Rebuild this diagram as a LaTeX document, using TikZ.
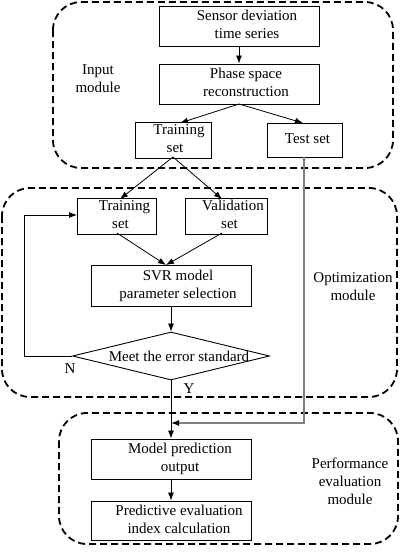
\documentclass[tikz,border=0pt]{standalone}
\usepackage{fontspec}
\setmainfont{Liberation Serif}
\usetikzlibrary{arrows.meta,shapes.geometric}
\newcommand{\shtxt}[2]{\hspace*{#1}\begin{tabular}{@{}c@{}}#2\end{tabular}}
\begin{document}
\begin{tikzpicture}[x=1pt,y=-1pt,
  every node/.style={font=\fontsize{15}{18}\selectfont, align=center, inner sep=0pt},
  box/.style={draw, line width=0.9pt, minimum width=#1},
  module/.style={draw, line width=1.8pt, dash pattern=on 7pt off 4pt, rounded corners=28pt},
  arr/.style={-{Latex[length=8pt,width=6pt]}, line width=0.8pt},
  grayarr/.style={-{Latex[length=8pt,width=6pt,color=black]}, draw=black!50, line width=1.4pt},
  lbl/.style={font=\fontsize{15}{18}\selectfont}
]
\useasboundingbox (0,0) rectangle (405,552);
% module frames
\draw[module] (53,2) rectangle (393,168);
\draw[module] (2,188) rectangle (397,397);
\draw[module] (59,413) rectangle (398,544);
\node[lbl] (inlab) at (98,79) {Input\\module};
\node[lbl] (optlab) at (353,287) {Optimization\\module};
\node[lbl] (perflab) at (350,481) {Performance\\evaluation\\module};
% nodes
\node[box=160pt, minimum height=40pt] (sensor) at (239,26) {\shtxt{16pt}{Sensor deviation\\time series}};
\node[box=160pt, minimum height=40pt] (phase) at (239,84) {\shtxt{14pt}{Phase space\\reconstruction}};
\node[box=76pt, minimum height=34pt] (tr1) at (173,140) {\shtxt{4pt}{\hspace*{8pt}Training\\set}};
\node[box=75pt, minimum height=34pt] (test) at (304.5,140) {\shtxt{6pt}{Test set}};
\node[box=79pt, minimum height=35pt] (tr2) at (116.5,216) {\shtxt{8pt}{\hspace*{8pt}Training\\set}};
\node[box=82pt, minimum height=35pt] (val) at (226,216) {\shtxt{7pt}{\hspace*{7pt}Validation\\set}};
\node[box=160pt, minimum height=41pt] (svr) at (171,285.5) {\shtxt{14pt}{SVR model\\parameter selection}};
\node[draw, line width=0.9pt, diamond, aspect=4.1, minimum width=197pt, minimum height=48pt] (dia) at (171,356) {};
\node (diatext) at (179,356) {Meet the error standard};
\node[box=160pt, minimum height=40pt] (pred) at (171,459) {\shtxt{18pt}{Model prediction\\output}};
\node[box=160pt, minimum height=39pt] (eval) at (171,520.5) {\shtxt{16pt}{Predictive evaluation\\index calculation}};
\node (N) at (70,369) {N};
\node (Y) at (189,389) {Y};
% coordinates
\coordinate (ph1) at (239,104);
\coordinate (t1t) at (180,123);
\coordinate (tst) at (303,123);
\coordinate (t1b) at (173,157);
\coordinate (t2t) at (120,199);
\coordinate (vt) at (222,199);
\coordinate (t2b) at (117,233);
\coordinate (vb) at (222,233);
\coordinate (svt) at (166,265);
\coordinate (loopA) at (24,356);
\coordinate (loopB) at (24,215);
\coordinate (tr2l) at (77,215);
\coordinate (testb) at (304,157);
\coordinate (tcorner) at (304,423);
\coordinate (tjoin) at (171,423);
% connectors
\draw[arr] (sensor) -- (phase);
\draw[arr] (ph1) -- (t1t);
\draw[arr] (ph1) -- (tst);
\draw[arr] (t1b) -- (t2t);
\draw[arr] (t1b) -- (vt);
\draw[arr] (t2b) -- (svt);
\draw[arr] (vb) -- (svt);
\draw[arr] (svr) -- (dia);
\draw[arr] (dia.west) -- (loopA) -- (loopB) -- (tr2l);
\draw[arr] (dia.south) -- (pred.north);
\draw[grayarr] (testb) -- (tcorner) -- (tjoin);
\draw[arr] (pred) -- (eval);
\end{tikzpicture}
\end{document}
